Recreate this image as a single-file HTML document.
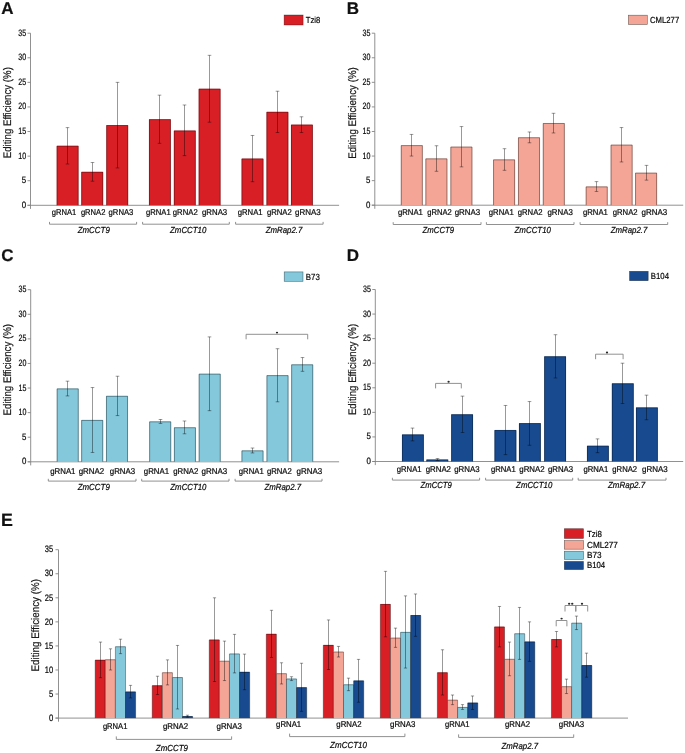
<!DOCTYPE html>
<html><head><meta charset="utf-8"><style>
html,body{margin:0;padding:0;background:#fff;width:685px;height:753px;overflow:hidden}
svg{display:block;font-family:"Liberation Sans",sans-serif;will-change:transform}
text{stroke:#1a1a1a;stroke-width:0.22px}
</style></head><body>
<svg width="685" height="753" viewBox="0 0 685 753" font-family="Liberation Sans, sans-serif" text-rendering="geometricPrecision">
<rect width="685" height="753" fill="#fff"/>
<text x="1.20" y="14.20" font-size="17" font-weight="bold" fill="#111">A</text>
<line x1="30.50" y1="33.20" x2="30.50" y2="208.90" stroke="#858585" stroke-width="0.9"/>
<line x1="27.50" y1="205.30" x2="30.50" y2="205.30" stroke="#858585" stroke-width="0.9"/>
<text x="26.20" y="207.80" font-size="9.2" text-anchor="end" textLength="4.40" lengthAdjust="spacingAndGlyphs">0</text>
<line x1="27.50" y1="180.71" x2="30.50" y2="180.71" stroke="#858585" stroke-width="0.9"/>
<text x="26.20" y="183.21" font-size="9.2" text-anchor="end" textLength="4.40" lengthAdjust="spacingAndGlyphs">5</text>
<line x1="27.50" y1="156.13" x2="30.50" y2="156.13" stroke="#858585" stroke-width="0.9"/>
<text x="26.20" y="158.63" font-size="9.2" text-anchor="end" textLength="7.90" lengthAdjust="spacingAndGlyphs">10</text>
<line x1="27.50" y1="131.54" x2="30.50" y2="131.54" stroke="#858585" stroke-width="0.9"/>
<text x="26.20" y="134.04" font-size="9.2" text-anchor="end" textLength="7.90" lengthAdjust="spacingAndGlyphs">15</text>
<line x1="27.50" y1="106.96" x2="30.50" y2="106.96" stroke="#858585" stroke-width="0.9"/>
<text x="26.20" y="109.46" font-size="9.2" text-anchor="end" textLength="7.90" lengthAdjust="spacingAndGlyphs">20</text>
<line x1="27.50" y1="82.37" x2="30.50" y2="82.37" stroke="#858585" stroke-width="0.9"/>
<text x="26.20" y="84.87" font-size="9.2" text-anchor="end" textLength="7.90" lengthAdjust="spacingAndGlyphs">25</text>
<line x1="27.50" y1="57.79" x2="30.50" y2="57.79" stroke="#858585" stroke-width="0.9"/>
<text x="26.20" y="60.29" font-size="9.2" text-anchor="end" textLength="7.90" lengthAdjust="spacingAndGlyphs">30</text>
<line x1="27.50" y1="33.20" x2="30.50" y2="33.20" stroke="#858585" stroke-width="0.9"/>
<text x="26.20" y="35.70" font-size="9.2" text-anchor="end" textLength="7.90" lengthAdjust="spacingAndGlyphs">35</text>
<text transform="translate(10.90,112.70) rotate(-90)" x="0" y="0" font-size="11" text-anchor="middle" textLength="91.2" lengthAdjust="spacingAndGlyphs" fill="#1a1a1a">Editing Efficiency (%)</text>
<line x1="27.50" y1="205.30" x2="339.10" y2="205.30" stroke="#858585" stroke-width="0.9"/>
<rect x="56.70" y="145.80" width="21.80" height="59.50" fill="#d81f26"/><path d="M57.05 205.30V146.15H78.15V205.30" fill="none" stroke="rgba(0,0,0,0.5)" stroke-width="0.7"/>
<path d="M65.70 127.61H69.30M67.50 127.61V164.00M65.70 164.00H69.30" fill="none" stroke="#000" stroke-opacity="0.5" stroke-width="0.8"/>
<rect x="81.30" y="171.86" width="21.80" height="33.44" fill="#d81f26"/><path d="M81.65 205.30V172.21H102.75V205.30" fill="none" stroke="rgba(0,0,0,0.5)" stroke-width="0.7"/>
<path d="M90.70 162.52H94.30M92.50 162.52V181.21M90.70 181.21H94.30" fill="none" stroke="#000" stroke-opacity="0.5" stroke-width="0.8"/>
<rect x="106.30" y="125.15" width="21.80" height="80.15" fill="#d81f26"/><path d="M106.65 205.30V125.50H127.75V205.30" fill="none" stroke="rgba(0,0,0,0.5)" stroke-width="0.7"/>
<path d="M115.70 82.37H119.30M117.50 82.37V167.93M115.70 167.93H119.30" fill="none" stroke="#000" stroke-opacity="0.5" stroke-width="0.8"/>
<rect x="149.00" y="119.25" width="21.80" height="86.05" fill="#d81f26"/><path d="M149.35 205.30V119.60H170.45V205.30" fill="none" stroke="rgba(0,0,0,0.5)" stroke-width="0.7"/>
<path d="M157.70 95.16H161.30M159.50 95.16V143.34M157.70 143.34H161.30" fill="none" stroke="#000" stroke-opacity="0.5" stroke-width="0.8"/>
<rect x="173.90" y="130.56" width="21.80" height="74.74" fill="#d81f26"/><path d="M174.25 205.30V130.91H195.35V205.30" fill="none" stroke="rgba(0,0,0,0.5)" stroke-width="0.7"/>
<path d="M182.70 104.99H186.30M184.50 104.99V155.64M182.70 155.64H186.30" fill="none" stroke="#000" stroke-opacity="0.5" stroke-width="0.8"/>
<rect x="198.70" y="88.76" width="21.80" height="116.54" fill="#d81f26"/><path d="M199.05 205.30V89.11H220.15V205.30" fill="none" stroke="rgba(0,0,0,0.5)" stroke-width="0.7"/>
<path d="M207.70 55.33H211.30M209.50 55.33V122.20M207.70 122.20H211.30" fill="none" stroke="#000" stroke-opacity="0.5" stroke-width="0.8"/>
<rect x="241.60" y="158.59" width="21.80" height="46.71" fill="#d81f26"/><path d="M241.95 205.30V158.94H263.05V205.30" fill="none" stroke="rgba(0,0,0,0.5)" stroke-width="0.7"/>
<path d="M250.70 135.48H254.30M252.50 135.48V181.70M250.70 181.70H254.30" fill="none" stroke="#000" stroke-opacity="0.5" stroke-width="0.8"/>
<rect x="266.50" y="111.87" width="21.80" height="93.43" fill="#d81f26"/><path d="M266.85 205.30V112.22H287.95V205.30" fill="none" stroke="rgba(0,0,0,0.5)" stroke-width="0.7"/>
<path d="M275.70 91.22H279.30M277.50 91.22V132.53M275.70 132.53H279.30" fill="none" stroke="#000" stroke-opacity="0.5" stroke-width="0.8"/>
<rect x="291.00" y="124.66" width="21.80" height="80.64" fill="#d81f26"/><path d="M291.35 205.30V125.01H312.45V205.30" fill="none" stroke="rgba(0,0,0,0.5)" stroke-width="0.7"/>
<path d="M299.70 116.79H303.30M301.50 116.79V132.53M299.70 132.53H303.30" fill="none" stroke="#000" stroke-opacity="0.5" stroke-width="0.8"/>
<text x="51.70" y="214.80" font-size="8.4" textLength="24.50" lengthAdjust="spacingAndGlyphs">gRNA1</text>
<text x="80.90" y="214.80" font-size="8.4" textLength="24.50" lengthAdjust="spacingAndGlyphs">gRNA2</text>
<text x="108.60" y="214.80" font-size="8.4" textLength="24.80" lengthAdjust="spacingAndGlyphs">gRNA3</text>
<text x="146.10" y="214.80" font-size="8.4" textLength="24.60" lengthAdjust="spacingAndGlyphs">gRNA1</text>
<text x="172.80" y="214.80" font-size="8.4" textLength="24.90" lengthAdjust="spacingAndGlyphs">gRNA2</text>
<text x="202.00" y="214.80" font-size="8.4" textLength="25.20" lengthAdjust="spacingAndGlyphs">gRNA3</text>
<text x="237.70" y="214.80" font-size="8.4" textLength="24.90" lengthAdjust="spacingAndGlyphs">gRNA1</text>
<text x="266.90" y="214.80" font-size="8.4" textLength="24.90" lengthAdjust="spacingAndGlyphs">gRNA2</text>
<text x="295.00" y="214.80" font-size="8.4" textLength="25.70" lengthAdjust="spacingAndGlyphs">gRNA3</text>
<path d="M49.50 221.90V224.20H136.60V221.90" fill="none" stroke="#858585" stroke-width="0.9"/>
<path d="M142.60 221.90V224.20H229.30V221.90" fill="none" stroke="#858585" stroke-width="0.9"/>
<path d="M235.60 221.90V224.20H323.10V221.90" fill="none" stroke="#858585" stroke-width="0.9"/>
<text x="77.70" y="233.40" font-size="8.8" textLength="32.10" lengthAdjust="spacingAndGlyphs" font-style="italic">ZmCCT9</text>
<text x="170.00" y="233.40" font-size="8.8" textLength="36.40" lengthAdjust="spacingAndGlyphs" font-style="italic">ZmCCT10</text>
<text x="265.70" y="233.40" font-size="8.8" textLength="36.60" lengthAdjust="spacingAndGlyphs" font-style="italic">ZmRap2.7</text>
<rect x="284.1" y="15.0" width="19.0" height="10.0" fill="#d81f26" stroke="rgba(0,0,0,0.5)" stroke-width="0.6"/>
<text x="305.80" y="23.30" font-size="8.8" textLength="14.50" lengthAdjust="spacingAndGlyphs">Tzi8</text>
<text x="346.80" y="14.00" font-size="17" font-weight="bold" fill="#111">B</text>
<line x1="374.80" y1="33.20" x2="374.80" y2="208.80" stroke="#858585" stroke-width="0.9"/>
<line x1="371.80" y1="205.20" x2="374.80" y2="205.20" stroke="#858585" stroke-width="0.9"/>
<text x="370.50" y="207.70" font-size="9.2" text-anchor="end" textLength="4.40" lengthAdjust="spacingAndGlyphs">0</text>
<line x1="371.80" y1="180.63" x2="374.80" y2="180.63" stroke="#858585" stroke-width="0.9"/>
<text x="370.50" y="183.13" font-size="9.2" text-anchor="end" textLength="4.40" lengthAdjust="spacingAndGlyphs">5</text>
<line x1="371.80" y1="156.06" x2="374.80" y2="156.06" stroke="#858585" stroke-width="0.9"/>
<text x="370.50" y="158.56" font-size="9.2" text-anchor="end" textLength="7.90" lengthAdjust="spacingAndGlyphs">10</text>
<line x1="371.80" y1="131.49" x2="374.80" y2="131.49" stroke="#858585" stroke-width="0.9"/>
<text x="370.50" y="133.99" font-size="9.2" text-anchor="end" textLength="7.90" lengthAdjust="spacingAndGlyphs">15</text>
<line x1="371.80" y1="106.91" x2="374.80" y2="106.91" stroke="#858585" stroke-width="0.9"/>
<text x="370.50" y="109.41" font-size="9.2" text-anchor="end" textLength="7.90" lengthAdjust="spacingAndGlyphs">20</text>
<line x1="371.80" y1="82.34" x2="374.80" y2="82.34" stroke="#858585" stroke-width="0.9"/>
<text x="370.50" y="84.84" font-size="9.2" text-anchor="end" textLength="7.90" lengthAdjust="spacingAndGlyphs">25</text>
<line x1="371.80" y1="57.77" x2="374.80" y2="57.77" stroke="#858585" stroke-width="0.9"/>
<text x="370.50" y="60.27" font-size="9.2" text-anchor="end" textLength="7.90" lengthAdjust="spacingAndGlyphs">30</text>
<line x1="371.80" y1="33.20" x2="374.80" y2="33.20" stroke="#858585" stroke-width="0.9"/>
<text x="370.50" y="35.70" font-size="9.2" text-anchor="end" textLength="7.90" lengthAdjust="spacingAndGlyphs">35</text>
<text transform="translate(355.60,113.00) rotate(-90)" x="0" y="0" font-size="11" text-anchor="middle" textLength="91.5" lengthAdjust="spacingAndGlyphs" fill="#1a1a1a">Editing Efficiency (%)</text>
<line x1="371.80" y1="205.20" x2="683.20" y2="205.20" stroke="#858585" stroke-width="0.9"/>
<rect x="400.90" y="145.25" width="21.80" height="59.95" fill="#f5a596"/><path d="M401.25 205.20V145.60H422.35V205.20" fill="none" stroke="rgba(0,0,0,0.55)" stroke-width="0.7"/>
<path d="M409.70 134.43H413.30M411.50 134.43V156.06M409.70 156.06H413.30" fill="none" stroke="#000" stroke-opacity="0.5" stroke-width="0.8"/>
<rect x="425.50" y="158.51" width="21.80" height="46.69" fill="#f5a596"/><path d="M425.85 205.20V158.86H446.95V205.20" fill="none" stroke="rgba(0,0,0,0.55)" stroke-width="0.7"/>
<path d="M434.70 145.74H438.30M436.50 145.74V171.29M434.70 171.29H438.30" fill="none" stroke="#000" stroke-opacity="0.5" stroke-width="0.8"/>
<rect x="450.50" y="146.72" width="21.80" height="58.48" fill="#f5a596"/><path d="M450.85 205.20V147.07H471.95V205.20" fill="none" stroke="rgba(0,0,0,0.55)" stroke-width="0.7"/>
<path d="M459.70 126.57H463.30M461.50 126.57V166.87M459.70 166.87H463.30" fill="none" stroke="#000" stroke-opacity="0.5" stroke-width="0.8"/>
<rect x="493.20" y="159.50" width="21.80" height="45.70" fill="#f5a596"/><path d="M493.55 205.20V159.85H514.65V205.20" fill="none" stroke="rgba(0,0,0,0.55)" stroke-width="0.7"/>
<path d="M502.70 148.69H506.30M504.50 148.69V170.31M502.70 170.31H506.30" fill="none" stroke="#000" stroke-opacity="0.5" stroke-width="0.8"/>
<rect x="518.10" y="137.38" width="21.80" height="67.82" fill="#f5a596"/><path d="M518.45 205.20V137.73H539.55V205.20" fill="none" stroke="rgba(0,0,0,0.55)" stroke-width="0.7"/>
<path d="M527.70 131.98H531.30M529.50 131.98V142.79M527.70 142.79H531.30" fill="none" stroke="#000" stroke-opacity="0.5" stroke-width="0.8"/>
<rect x="542.90" y="123.13" width="21.80" height="82.07" fill="#f5a596"/><path d="M543.25 205.20V123.48H564.35V205.20" fill="none" stroke="rgba(0,0,0,0.55)" stroke-width="0.7"/>
<path d="M551.70 113.30H555.30M553.50 113.30V132.96M551.70 132.96H555.30" fill="none" stroke="#000" stroke-opacity="0.5" stroke-width="0.8"/>
<rect x="585.80" y="186.53" width="21.80" height="18.67" fill="#f5a596"/><path d="M586.15 205.20V186.88H607.25V205.20" fill="none" stroke="rgba(0,0,0,0.55)" stroke-width="0.7"/>
<path d="M594.70 181.61H598.30M596.50 181.61V191.44M594.70 191.44H598.30" fill="none" stroke="#000" stroke-opacity="0.5" stroke-width="0.8"/>
<rect x="610.70" y="144.75" width="21.80" height="60.45" fill="#f5a596"/><path d="M611.05 205.20V145.10H632.15V205.20" fill="none" stroke="rgba(0,0,0,0.55)" stroke-width="0.7"/>
<path d="M619.70 127.55H623.30M621.50 127.55V161.95M619.70 161.95H623.30" fill="none" stroke="#000" stroke-opacity="0.5" stroke-width="0.8"/>
<rect x="635.20" y="172.77" width="21.80" height="32.43" fill="#f5a596"/><path d="M635.55 205.20V173.12H656.65V205.20" fill="none" stroke="rgba(0,0,0,0.55)" stroke-width="0.7"/>
<path d="M644.70 165.39H648.30M646.50 165.39V180.14M644.70 180.14H648.30" fill="none" stroke="#000" stroke-opacity="0.5" stroke-width="0.8"/>
<text x="398.00" y="215.00" font-size="8.4" textLength="24.90" lengthAdjust="spacingAndGlyphs">gRNA1</text>
<text x="427.30" y="215.00" font-size="8.4" textLength="24.50" lengthAdjust="spacingAndGlyphs">gRNA2</text>
<text x="454.70" y="215.00" font-size="8.4" textLength="25.60" lengthAdjust="spacingAndGlyphs">gRNA3</text>
<text x="488.80" y="215.00" font-size="8.4" textLength="24.90" lengthAdjust="spacingAndGlyphs">gRNA1</text>
<text x="517.70" y="215.00" font-size="8.4" textLength="24.90" lengthAdjust="spacingAndGlyphs">gRNA2</text>
<text x="547.40" y="215.00" font-size="8.4" textLength="25.40" lengthAdjust="spacingAndGlyphs">gRNA3</text>
<text x="583.00" y="215.00" font-size="8.4" textLength="24.90" lengthAdjust="spacingAndGlyphs">gRNA1</text>
<text x="612.70" y="215.00" font-size="8.4" textLength="24.90" lengthAdjust="spacingAndGlyphs">gRNA2</text>
<text x="641.60" y="215.00" font-size="8.4" textLength="25.70" lengthAdjust="spacingAndGlyphs">gRNA3</text>
<path d="M393.20 222.20V224.50H481.00V222.20" fill="none" stroke="#858585" stroke-width="0.9"/>
<path d="M486.40 222.20V224.50H574.00V222.20" fill="none" stroke="#858585" stroke-width="0.9"/>
<path d="M580.10 222.20V224.50H667.70V222.20" fill="none" stroke="#858585" stroke-width="0.9"/>
<text x="422.60" y="233.40" font-size="8.8" textLength="31.60" lengthAdjust="spacingAndGlyphs" font-style="italic">ZmCCT9</text>
<text x="514.50" y="233.40" font-size="8.8" textLength="36.50" lengthAdjust="spacingAndGlyphs" font-style="italic">ZmCCT10</text>
<text x="610.70" y="233.40" font-size="8.8" textLength="36.60" lengthAdjust="spacingAndGlyphs" font-style="italic">ZmRap2.7</text>
<rect x="628.4" y="15.2" width="18.9" height="9.3" fill="#f5a596" stroke="rgba(0,0,0,0.55)" stroke-width="0.6"/>
<text x="650.00" y="22.80" font-size="8.8" textLength="29.20" lengthAdjust="spacingAndGlyphs">CML277</text>
<text x="1.30" y="260.60" font-size="17" font-weight="bold" fill="#111">C</text>
<line x1="30.70" y1="289.70" x2="30.70" y2="465.40" stroke="#858585" stroke-width="0.9"/>
<line x1="27.70" y1="461.80" x2="30.70" y2="461.80" stroke="#858585" stroke-width="0.9"/>
<text x="26.40" y="464.30" font-size="9.2" text-anchor="end" textLength="4.40" lengthAdjust="spacingAndGlyphs">0</text>
<line x1="27.70" y1="437.21" x2="30.70" y2="437.21" stroke="#858585" stroke-width="0.9"/>
<text x="26.40" y="439.71" font-size="9.2" text-anchor="end" textLength="4.40" lengthAdjust="spacingAndGlyphs">5</text>
<line x1="27.70" y1="412.63" x2="30.70" y2="412.63" stroke="#858585" stroke-width="0.9"/>
<text x="26.40" y="415.13" font-size="9.2" text-anchor="end" textLength="7.90" lengthAdjust="spacingAndGlyphs">10</text>
<line x1="27.70" y1="388.04" x2="30.70" y2="388.04" stroke="#858585" stroke-width="0.9"/>
<text x="26.40" y="390.54" font-size="9.2" text-anchor="end" textLength="7.90" lengthAdjust="spacingAndGlyphs">15</text>
<line x1="27.70" y1="363.46" x2="30.70" y2="363.46" stroke="#858585" stroke-width="0.9"/>
<text x="26.40" y="365.96" font-size="9.2" text-anchor="end" textLength="7.90" lengthAdjust="spacingAndGlyphs">20</text>
<line x1="27.70" y1="338.87" x2="30.70" y2="338.87" stroke="#858585" stroke-width="0.9"/>
<text x="26.40" y="341.37" font-size="9.2" text-anchor="end" textLength="7.90" lengthAdjust="spacingAndGlyphs">25</text>
<line x1="27.70" y1="314.29" x2="30.70" y2="314.29" stroke="#858585" stroke-width="0.9"/>
<text x="26.40" y="316.79" font-size="9.2" text-anchor="end" textLength="7.90" lengthAdjust="spacingAndGlyphs">30</text>
<line x1="27.70" y1="289.70" x2="30.70" y2="289.70" stroke="#858585" stroke-width="0.9"/>
<text x="26.40" y="292.20" font-size="9.2" text-anchor="end" textLength="7.90" lengthAdjust="spacingAndGlyphs">35</text>
<text transform="translate(11.20,369.70) rotate(-90)" x="0" y="0" font-size="11" text-anchor="middle" textLength="91.6" lengthAdjust="spacingAndGlyphs" fill="#1a1a1a">Editing Efficiency (%)</text>
<line x1="27.70" y1="461.80" x2="339.10" y2="461.80" stroke="#858585" stroke-width="0.9"/>
<rect x="56.80" y="388.53" width="21.80" height="73.27" fill="#84c8dc"/><path d="M57.15 461.80V388.88H78.25V461.80" fill="none" stroke="rgba(0,0,0,0.55)" stroke-width="0.7"/>
<path d="M65.70 381.16H69.30M67.50 381.16V395.91M65.70 395.91H69.30" fill="none" stroke="#000" stroke-opacity="0.5" stroke-width="0.8"/>
<rect x="81.30" y="420.00" width="21.80" height="41.80" fill="#84c8dc"/><path d="M81.65 461.80V420.35H102.75V461.80" fill="none" stroke="rgba(0,0,0,0.55)" stroke-width="0.7"/>
<path d="M90.70 387.55H94.30M92.50 387.55V452.46M90.70 452.46H94.30" fill="none" stroke="#000" stroke-opacity="0.5" stroke-width="0.8"/>
<rect x="106.10" y="395.91" width="21.80" height="65.89" fill="#84c8dc"/><path d="M106.45 461.80V396.26H127.55V461.80" fill="none" stroke="rgba(0,0,0,0.55)" stroke-width="0.7"/>
<path d="M115.70 376.24H119.30M117.50 376.24V415.58M115.70 415.58H119.30" fill="none" stroke="#000" stroke-opacity="0.5" stroke-width="0.8"/>
<rect x="149.30" y="421.48" width="21.80" height="40.32" fill="#84c8dc"/><path d="M149.65 461.80V421.83H170.75V461.80" fill="none" stroke="rgba(0,0,0,0.55)" stroke-width="0.7"/>
<path d="M158.70 419.51H162.30M160.50 419.51V423.45M158.70 423.45H162.30" fill="none" stroke="#000" stroke-opacity="0.5" stroke-width="0.8"/>
<rect x="174.00" y="427.38" width="21.80" height="34.42" fill="#84c8dc"/><path d="M174.35 461.80V427.73H195.45V461.80" fill="none" stroke="rgba(0,0,0,0.55)" stroke-width="0.7"/>
<path d="M182.70 420.99H186.30M184.50 420.99V433.77M182.70 433.77H186.30" fill="none" stroke="#000" stroke-opacity="0.5" stroke-width="0.8"/>
<rect x="198.80" y="373.78" width="21.80" height="88.02" fill="#84c8dc"/><path d="M199.15 461.80V374.13H220.25V461.80" fill="none" stroke="rgba(0,0,0,0.55)" stroke-width="0.7"/>
<path d="M207.70 336.90H211.30M209.50 336.90V410.66M207.70 410.66H211.30" fill="none" stroke="#000" stroke-opacity="0.5" stroke-width="0.8"/>
<rect x="241.60" y="450.49" width="21.80" height="11.31" fill="#84c8dc"/><path d="M241.95 461.80V450.84H263.05V461.80" fill="none" stroke="rgba(0,0,0,0.55)" stroke-width="0.7"/>
<path d="M250.70 448.03H254.30M252.50 448.03V452.95M250.70 452.95H254.30" fill="none" stroke="#000" stroke-opacity="0.5" stroke-width="0.8"/>
<rect x="266.60" y="375.26" width="21.80" height="86.54" fill="#84c8dc"/><path d="M266.95 461.80V375.61H288.05V461.80" fill="none" stroke="rgba(0,0,0,0.55)" stroke-width="0.7"/>
<path d="M275.70 348.71H279.30M277.50 348.71V401.81M275.70 401.81H279.30" fill="none" stroke="#000" stroke-opacity="0.5" stroke-width="0.8"/>
<rect x="291.30" y="364.44" width="21.80" height="97.36" fill="#84c8dc"/><path d="M291.65 461.80V364.79H312.75V461.80" fill="none" stroke="rgba(0,0,0,0.55)" stroke-width="0.7"/>
<path d="M300.70 357.56H304.30M302.50 357.56V371.32M300.70 371.32H304.30" fill="none" stroke="#000" stroke-opacity="0.5" stroke-width="0.8"/>
<text x="50.20" y="473.50" font-size="8.4" textLength="25.30" lengthAdjust="spacingAndGlyphs">gRNA1</text>
<text x="78.70" y="473.50" font-size="8.4" textLength="25.50" lengthAdjust="spacingAndGlyphs">gRNA2</text>
<text x="109.80" y="473.50" font-size="8.4" textLength="25.40" lengthAdjust="spacingAndGlyphs">gRNA3</text>
<text x="143.80" y="473.50" font-size="8.4" textLength="25.20" lengthAdjust="spacingAndGlyphs">gRNA1</text>
<text x="173.20" y="473.50" font-size="8.4" textLength="25.20" lengthAdjust="spacingAndGlyphs">gRNA2</text>
<text x="201.60" y="473.50" font-size="8.4" textLength="25.70" lengthAdjust="spacingAndGlyphs">gRNA3</text>
<text x="238.80" y="473.50" font-size="8.4" textLength="24.90" lengthAdjust="spacingAndGlyphs">gRNA1</text>
<text x="266.90" y="473.50" font-size="8.4" textLength="24.90" lengthAdjust="spacingAndGlyphs">gRNA2</text>
<text x="296.60" y="473.50" font-size="8.4" textLength="25.70" lengthAdjust="spacingAndGlyphs">gRNA3</text>
<path d="M48.30 478.80V481.10H136.00V478.80" fill="none" stroke="#858585" stroke-width="0.9"/>
<path d="M141.70 478.80V481.10H229.00V478.80" fill="none" stroke="#858585" stroke-width="0.9"/>
<path d="M235.10 478.80V481.10H322.00V478.80" fill="none" stroke="#858585" stroke-width="0.9"/>
<text x="77.70" y="489.80" font-size="8.8" textLength="32.10" lengthAdjust="spacingAndGlyphs" font-style="italic">ZmCCT9</text>
<text x="170.30" y="489.80" font-size="8.8" textLength="36.20" lengthAdjust="spacingAndGlyphs" font-style="italic">ZmCCT10</text>
<text x="264.50" y="489.80" font-size="8.8" textLength="36.60" lengthAdjust="spacingAndGlyphs" font-style="italic">ZmRap2.7</text>
<rect x="284.2" y="271.9" width="18.8" height="9.4" fill="#84c8dc" stroke="rgba(0,0,0,0.55)" stroke-width="0.6"/>
<text x="305.80" y="279.60" font-size="8.8" textLength="14.00" lengthAdjust="spacingAndGlyphs">B73</text>
<path d="M246.10 339.30V334.30H307.70V339.30" fill="none" stroke="#858585" stroke-width="0.9"/>
<ellipse cx="277.00" cy="332.60" rx="1.15" ry="0.95" fill="#2a2a2a"/>
<text x="346.80" y="260.80" font-size="17" font-weight="bold" fill="#111">D</text>
<line x1="375.30" y1="289.50" x2="375.30" y2="465.10" stroke="#858585" stroke-width="0.9"/>
<line x1="372.30" y1="461.50" x2="375.30" y2="461.50" stroke="#858585" stroke-width="0.9"/>
<text x="371.00" y="464.00" font-size="9.2" text-anchor="end" textLength="4.40" lengthAdjust="spacingAndGlyphs">0</text>
<line x1="372.30" y1="436.93" x2="375.30" y2="436.93" stroke="#858585" stroke-width="0.9"/>
<text x="371.00" y="439.43" font-size="9.2" text-anchor="end" textLength="4.40" lengthAdjust="spacingAndGlyphs">5</text>
<line x1="372.30" y1="412.36" x2="375.30" y2="412.36" stroke="#858585" stroke-width="0.9"/>
<text x="371.00" y="414.86" font-size="9.2" text-anchor="end" textLength="7.90" lengthAdjust="spacingAndGlyphs">10</text>
<line x1="372.30" y1="387.79" x2="375.30" y2="387.79" stroke="#858585" stroke-width="0.9"/>
<text x="371.00" y="390.29" font-size="9.2" text-anchor="end" textLength="7.90" lengthAdjust="spacingAndGlyphs">15</text>
<line x1="372.30" y1="363.21" x2="375.30" y2="363.21" stroke="#858585" stroke-width="0.9"/>
<text x="371.00" y="365.71" font-size="9.2" text-anchor="end" textLength="7.90" lengthAdjust="spacingAndGlyphs">20</text>
<line x1="372.30" y1="338.64" x2="375.30" y2="338.64" stroke="#858585" stroke-width="0.9"/>
<text x="371.00" y="341.14" font-size="9.2" text-anchor="end" textLength="7.90" lengthAdjust="spacingAndGlyphs">25</text>
<line x1="372.30" y1="314.07" x2="375.30" y2="314.07" stroke="#858585" stroke-width="0.9"/>
<text x="371.00" y="316.57" font-size="9.2" text-anchor="end" textLength="7.90" lengthAdjust="spacingAndGlyphs">30</text>
<line x1="372.30" y1="289.50" x2="375.30" y2="289.50" stroke="#858585" stroke-width="0.9"/>
<text x="371.00" y="292.00" font-size="9.2" text-anchor="end" textLength="7.90" lengthAdjust="spacingAndGlyphs">35</text>
<text transform="translate(356.00,369.50) rotate(-90)" x="0" y="0" font-size="11" text-anchor="middle" textLength="91.2" lengthAdjust="spacingAndGlyphs" fill="#1a1a1a">Editing Efficiency (%)</text>
<line x1="372.30" y1="461.50" x2="683.20" y2="461.50" stroke="#858585" stroke-width="0.9"/>
<rect x="402.00" y="434.47" width="21.80" height="27.03" fill="#174a8f"/><path d="M402.35 461.50V434.82H423.45V461.50" fill="none" stroke="rgba(0,0,0,0.5)" stroke-width="0.7"/>
<path d="M410.70 428.08H414.30M412.50 428.08V440.86M410.70 440.86H414.30" fill="none" stroke="#000" stroke-opacity="0.5" stroke-width="0.8"/>
<rect x="426.40" y="459.53" width="21.80" height="1.97" fill="#174a8f"/><path d="M426.75 461.50V459.88H447.85V461.50" fill="none" stroke="rgba(0,0,0,0.5)" stroke-width="0.7"/>
<path d="M435.70 458.55H439.30M437.50 458.55V460.52M435.70 460.52H439.30" fill="none" stroke="#000" stroke-opacity="0.5" stroke-width="0.8"/>
<rect x="451.20" y="414.32" width="21.80" height="47.18" fill="#174a8f"/><path d="M451.55 461.50V414.67H472.65V461.50" fill="none" stroke="rgba(0,0,0,0.5)" stroke-width="0.7"/>
<path d="M460.70 396.14H464.30M462.50 396.14V432.51M460.70 432.51H464.30" fill="none" stroke="#000" stroke-opacity="0.5" stroke-width="0.8"/>
<rect x="494.50" y="430.05" width="21.80" height="31.45" fill="#174a8f"/><path d="M494.85 461.50V430.40H515.95V461.50" fill="none" stroke="rgba(0,0,0,0.5)" stroke-width="0.7"/>
<path d="M503.70 405.48H507.30M505.50 405.48V454.62M503.70 454.62H507.30" fill="none" stroke="#000" stroke-opacity="0.5" stroke-width="0.8"/>
<rect x="519.00" y="423.17" width="21.80" height="38.33" fill="#174a8f"/><path d="M519.35 461.50V423.52H540.45V461.50" fill="none" stroke="rgba(0,0,0,0.5)" stroke-width="0.7"/>
<path d="M527.70 401.55H531.30M529.50 401.55V445.28M527.70 445.28H531.30" fill="none" stroke="#000" stroke-opacity="0.5" stroke-width="0.8"/>
<rect x="544.20" y="356.33" width="21.80" height="105.17" fill="#174a8f"/><path d="M544.55 461.50V356.68H565.65V461.50" fill="none" stroke="rgba(0,0,0,0.5)" stroke-width="0.7"/>
<path d="M553.70 334.71H557.30M555.50 334.71V377.96M553.70 377.96H557.30" fill="none" stroke="#000" stroke-opacity="0.5" stroke-width="0.8"/>
<rect x="587.00" y="445.77" width="21.80" height="15.73" fill="#174a8f"/><path d="M587.35 461.50V446.12H608.45V461.50" fill="none" stroke="rgba(0,0,0,0.5)" stroke-width="0.7"/>
<path d="M595.70 438.89H599.30M597.50 438.89V452.65M595.70 452.65H599.30" fill="none" stroke="#000" stroke-opacity="0.5" stroke-width="0.8"/>
<rect x="611.90" y="383.36" width="21.80" height="78.14" fill="#174a8f"/><path d="M612.25 461.50V383.71H633.35V461.50" fill="none" stroke="rgba(0,0,0,0.5)" stroke-width="0.7"/>
<path d="M620.70 363.21H624.30M622.50 363.21V403.51M620.70 403.51H624.30" fill="none" stroke="#000" stroke-opacity="0.5" stroke-width="0.8"/>
<rect x="636.00" y="407.44" width="21.80" height="54.06" fill="#174a8f"/><path d="M636.35 461.50V407.79H657.45V461.50" fill="none" stroke="rgba(0,0,0,0.5)" stroke-width="0.7"/>
<path d="M644.70 395.16H648.30M646.50 395.16V419.73M644.70 419.73H648.30" fill="none" stroke="#000" stroke-opacity="0.5" stroke-width="0.8"/>
<text x="396.70" y="472.00" font-size="8.4" textLength="24.90" lengthAdjust="spacingAndGlyphs">gRNA1</text>
<text x="425.70" y="472.00" font-size="8.4" textLength="25.30" lengthAdjust="spacingAndGlyphs">gRNA2</text>
<text x="454.20" y="472.00" font-size="8.4" textLength="25.40" lengthAdjust="spacingAndGlyphs">gRNA3</text>
<text x="490.90" y="472.00" font-size="8.4" textLength="24.80" lengthAdjust="spacingAndGlyphs">gRNA1</text>
<text x="519.30" y="472.00" font-size="8.4" textLength="25.40" lengthAdjust="spacingAndGlyphs">gRNA2</text>
<text x="547.90" y="472.00" font-size="8.4" textLength="25.20" lengthAdjust="spacingAndGlyphs">gRNA3</text>
<text x="583.40" y="472.00" font-size="8.4" textLength="24.80" lengthAdjust="spacingAndGlyphs">gRNA1</text>
<text x="612.30" y="472.00" font-size="8.4" textLength="24.80" lengthAdjust="spacingAndGlyphs">gRNA2</text>
<text x="642.10" y="472.00" font-size="8.4" textLength="25.70" lengthAdjust="spacingAndGlyphs">gRNA3</text>
<path d="M392.40 477.80V480.10H479.60V477.80" fill="none" stroke="#858585" stroke-width="0.9"/>
<path d="M485.60 477.80V480.10H572.70V477.80" fill="none" stroke="#858585" stroke-width="0.9"/>
<path d="M578.20 477.80V480.10H666.00V477.80" fill="none" stroke="#858585" stroke-width="0.9"/>
<text x="420.50" y="488.40" font-size="8.8" textLength="31.30" lengthAdjust="spacingAndGlyphs" font-style="italic">ZmCCT9</text>
<text x="516.10" y="488.40" font-size="8.8" textLength="36.20" lengthAdjust="spacingAndGlyphs" font-style="italic">ZmCCT10</text>
<text x="607.90" y="488.40" font-size="8.8" textLength="37.30" lengthAdjust="spacingAndGlyphs" font-style="italic">ZmRap2.7</text>
<rect x="629.5" y="271.3" width="18.7" height="9.4" fill="#174a8f" stroke="rgba(0,0,0,0.5)" stroke-width="0.6"/>
<text x="650.80" y="278.70" font-size="8.8" textLength="18.20" lengthAdjust="spacingAndGlyphs">B104</text>
<path d="M435.60 388.40V383.40H461.30V388.40" fill="none" stroke="#858585" stroke-width="0.9"/>
<ellipse cx="448.60" cy="381.70" rx="1.15" ry="0.95" fill="#2a2a2a"/>
<path d="M595.60 359.20V354.20H623.10V359.20" fill="none" stroke="#858585" stroke-width="0.9"/>
<ellipse cx="607.00" cy="352.50" rx="1.15" ry="0.95" fill="#2a2a2a"/>
<text x="0.90" y="525.80" font-size="17.8" font-weight="bold" fill="#111">E</text>
<line x1="58.50" y1="549.70" x2="58.50" y2="721.70" stroke="#858585" stroke-width="0.9"/>
<line x1="55.50" y1="718.10" x2="58.50" y2="718.10" stroke="#858585" stroke-width="0.9"/>
<text x="53.20" y="720.80" font-size="9.4" text-anchor="end" textLength="4.30" lengthAdjust="spacingAndGlyphs">0</text>
<line x1="55.50" y1="694.04" x2="58.50" y2="694.04" stroke="#858585" stroke-width="0.9"/>
<text x="53.20" y="696.74" font-size="9.4" text-anchor="end" textLength="4.30" lengthAdjust="spacingAndGlyphs">5</text>
<line x1="55.50" y1="669.99" x2="58.50" y2="669.99" stroke="#858585" stroke-width="0.9"/>
<text x="53.20" y="672.69" font-size="9.4" text-anchor="end" textLength="8.40" lengthAdjust="spacingAndGlyphs">10</text>
<line x1="55.50" y1="645.93" x2="58.50" y2="645.93" stroke="#858585" stroke-width="0.9"/>
<text x="53.20" y="648.63" font-size="9.4" text-anchor="end" textLength="8.40" lengthAdjust="spacingAndGlyphs">15</text>
<line x1="55.50" y1="621.87" x2="58.50" y2="621.87" stroke="#858585" stroke-width="0.9"/>
<text x="53.20" y="624.57" font-size="9.4" text-anchor="end" textLength="8.40" lengthAdjust="spacingAndGlyphs">20</text>
<line x1="55.50" y1="597.81" x2="58.50" y2="597.81" stroke="#858585" stroke-width="0.9"/>
<text x="53.20" y="600.51" font-size="9.4" text-anchor="end" textLength="8.40" lengthAdjust="spacingAndGlyphs">25</text>
<line x1="55.50" y1="573.76" x2="58.50" y2="573.76" stroke="#858585" stroke-width="0.9"/>
<text x="53.20" y="576.46" font-size="9.4" text-anchor="end" textLength="8.40" lengthAdjust="spacingAndGlyphs">30</text>
<line x1="55.50" y1="549.70" x2="58.50" y2="549.70" stroke="#858585" stroke-width="0.9"/>
<text x="53.20" y="552.40" font-size="9.4" text-anchor="end" textLength="8.40" lengthAdjust="spacingAndGlyphs">35</text>
<text transform="translate(39.0,625.3) rotate(-90)" x="0" y="0" font-size="11" text-anchor="middle" textLength="92.4" lengthAdjust="spacingAndGlyphs" fill="#1a1a1a">Editing Efficiency (%)</text>
<line x1="55.50" y1="718.10" x2="628.00" y2="718.10" stroke="#858585" stroke-width="0.9"/>
<rect x="95.20" y="659.88" width="10.10" height="58.22" fill="#d81f26"/><path d="M95.20 718.10V660.23H105.30V718.10" fill="none" stroke="rgba(0,0,0,0.5)" stroke-width="0.7"/>
<rect x="105.30" y="659.40" width="10.10" height="58.70" fill="#f5a596"/><path d="M105.30 718.10V659.75H115.40V718.10" fill="none" stroke="rgba(0,0,0,0.5)" stroke-width="0.7"/>
<rect x="115.40" y="646.41" width="10.10" height="71.69" fill="#84c8dc"/><path d="M115.40 718.10V646.76H125.50V718.10" fill="none" stroke="rgba(0,0,0,0.5)" stroke-width="0.7"/>
<rect x="125.50" y="691.64" width="10.10" height="26.46" fill="#174a8f"/><path d="M125.50 718.10V691.99H135.60V718.10" fill="none" stroke="rgba(0,0,0,0.5)" stroke-width="0.7"/>
<rect x="152.23" y="685.38" width="10.10" height="32.72" fill="#d81f26"/><path d="M152.23 718.10V685.73H162.33V718.10" fill="none" stroke="rgba(0,0,0,0.5)" stroke-width="0.7"/>
<rect x="162.33" y="672.39" width="10.10" height="45.71" fill="#f5a596"/><path d="M162.33 718.10V672.74H172.43V718.10" fill="none" stroke="rgba(0,0,0,0.5)" stroke-width="0.7"/>
<rect x="172.43" y="677.20" width="10.10" height="40.90" fill="#84c8dc"/><path d="M172.43 718.10V677.55H182.53V718.10" fill="none" stroke="rgba(0,0,0,0.5)" stroke-width="0.7"/>
<rect x="182.53" y="716.18" width="10.10" height="1.92" fill="#174a8f"/><path d="M182.53 718.10V716.53H192.63V718.10" fill="none" stroke="rgba(0,0,0,0.5)" stroke-width="0.7"/>
<rect x="209.26" y="639.67" width="10.10" height="78.43" fill="#d81f26"/><path d="M209.26 718.10V640.02H219.36V718.10" fill="none" stroke="rgba(0,0,0,0.5)" stroke-width="0.7"/>
<rect x="219.36" y="660.84" width="10.10" height="57.26" fill="#f5a596"/><path d="M219.36 718.10V661.19H229.46V718.10" fill="none" stroke="rgba(0,0,0,0.5)" stroke-width="0.7"/>
<rect x="229.46" y="653.63" width="10.10" height="64.47" fill="#84c8dc"/><path d="M229.46 718.10V653.98H239.56V718.10" fill="none" stroke="rgba(0,0,0,0.5)" stroke-width="0.7"/>
<rect x="239.56" y="671.91" width="10.10" height="46.19" fill="#174a8f"/><path d="M239.56 718.10V672.26H249.66V718.10" fill="none" stroke="rgba(0,0,0,0.5)" stroke-width="0.7"/>
<rect x="266.29" y="633.90" width="10.10" height="84.20" fill="#d81f26"/><path d="M266.29 718.10V634.25H276.39V718.10" fill="none" stroke="rgba(0,0,0,0.5)" stroke-width="0.7"/>
<rect x="276.39" y="673.35" width="10.10" height="44.75" fill="#f5a596"/><path d="M276.39 718.10V673.70H286.49V718.10" fill="none" stroke="rgba(0,0,0,0.5)" stroke-width="0.7"/>
<rect x="286.49" y="678.65" width="10.10" height="39.45" fill="#84c8dc"/><path d="M286.49 718.10V679.00H296.59V718.10" fill="none" stroke="rgba(0,0,0,0.5)" stroke-width="0.7"/>
<rect x="296.59" y="687.31" width="10.10" height="30.79" fill="#174a8f"/><path d="M296.59 718.10V687.66H306.69V718.10" fill="none" stroke="rgba(0,0,0,0.5)" stroke-width="0.7"/>
<rect x="323.32" y="644.97" width="10.10" height="73.13" fill="#d81f26"/><path d="M323.32 718.10V645.32H333.42V718.10" fill="none" stroke="rgba(0,0,0,0.5)" stroke-width="0.7"/>
<rect x="333.42" y="651.70" width="10.10" height="66.40" fill="#f5a596"/><path d="M333.42 718.10V652.05H343.52V718.10" fill="none" stroke="rgba(0,0,0,0.5)" stroke-width="0.7"/>
<rect x="343.52" y="684.42" width="10.10" height="33.68" fill="#84c8dc"/><path d="M343.52 718.10V684.77H353.62V718.10" fill="none" stroke="rgba(0,0,0,0.5)" stroke-width="0.7"/>
<rect x="353.62" y="680.57" width="10.10" height="37.53" fill="#174a8f"/><path d="M353.62 718.10V680.92H363.72V718.10" fill="none" stroke="rgba(0,0,0,0.5)" stroke-width="0.7"/>
<rect x="380.35" y="604.07" width="10.10" height="114.03" fill="#d81f26"/><path d="M380.35 718.10V604.42H390.45V718.10" fill="none" stroke="rgba(0,0,0,0.5)" stroke-width="0.7"/>
<rect x="390.45" y="637.75" width="10.10" height="80.35" fill="#f5a596"/><path d="M390.45 718.10V638.10H400.55V718.10" fill="none" stroke="rgba(0,0,0,0.5)" stroke-width="0.7"/>
<rect x="400.55" y="631.98" width="10.10" height="86.12" fill="#84c8dc"/><path d="M400.55 718.10V632.33H410.65V718.10" fill="none" stroke="rgba(0,0,0,0.5)" stroke-width="0.7"/>
<rect x="410.65" y="615.14" width="10.10" height="102.96" fill="#174a8f"/><path d="M410.65 718.10V615.49H420.75V718.10" fill="none" stroke="rgba(0,0,0,0.5)" stroke-width="0.7"/>
<rect x="437.38" y="672.39" width="10.10" height="45.71" fill="#d81f26"/><path d="M437.38 718.10V672.74H447.48V718.10" fill="none" stroke="rgba(0,0,0,0.5)" stroke-width="0.7"/>
<rect x="447.48" y="699.82" width="10.10" height="18.28" fill="#f5a596"/><path d="M447.48 718.10V700.17H457.58V718.10" fill="none" stroke="rgba(0,0,0,0.5)" stroke-width="0.7"/>
<rect x="457.58" y="707.03" width="10.10" height="11.07" fill="#84c8dc"/><path d="M457.58 718.10V707.38H467.68V718.10" fill="none" stroke="rgba(0,0,0,0.5)" stroke-width="0.7"/>
<rect x="467.68" y="702.70" width="10.10" height="15.40" fill="#174a8f"/><path d="M467.68 718.10V703.05H477.78V718.10" fill="none" stroke="rgba(0,0,0,0.5)" stroke-width="0.7"/>
<rect x="494.41" y="626.68" width="10.10" height="91.42" fill="#d81f26"/><path d="M494.41 718.10V627.03H504.51V718.10" fill="none" stroke="rgba(0,0,0,0.5)" stroke-width="0.7"/>
<rect x="504.51" y="658.92" width="10.10" height="59.18" fill="#f5a596"/><path d="M504.51 718.10V659.27H514.61V718.10" fill="none" stroke="rgba(0,0,0,0.5)" stroke-width="0.7"/>
<rect x="514.61" y="633.42" width="10.10" height="84.68" fill="#84c8dc"/><path d="M514.61 718.10V633.77H524.71V718.10" fill="none" stroke="rgba(0,0,0,0.5)" stroke-width="0.7"/>
<rect x="524.71" y="641.60" width="10.10" height="76.50" fill="#174a8f"/><path d="M524.71 718.10V641.95H534.81V718.10" fill="none" stroke="rgba(0,0,0,0.5)" stroke-width="0.7"/>
<rect x="551.44" y="639.19" width="10.10" height="78.91" fill="#d81f26"/><path d="M551.44 718.10V639.54H561.54V718.10" fill="none" stroke="rgba(0,0,0,0.5)" stroke-width="0.7"/>
<rect x="561.54" y="686.34" width="10.10" height="31.76" fill="#f5a596"/><path d="M561.54 718.10V686.69H571.64V718.10" fill="none" stroke="rgba(0,0,0,0.5)" stroke-width="0.7"/>
<rect x="571.64" y="622.83" width="10.10" height="95.27" fill="#84c8dc"/><path d="M571.64 718.10V623.18H581.74V718.10" fill="none" stroke="rgba(0,0,0,0.5)" stroke-width="0.7"/>
<rect x="581.74" y="665.17" width="10.10" height="52.93" fill="#174a8f"/><path d="M581.74 718.10V665.52H591.84V718.10" fill="none" stroke="rgba(0,0,0,0.5)" stroke-width="0.7"/>
<path d="M98.90 642.08H102.10M100.50 642.08V677.68M98.90 677.68H102.10" fill="none" stroke="#000" stroke-opacity="0.5" stroke-width="0.8"/>
<path d="M108.90 648.82H112.10M110.50 648.82V669.99M108.90 669.99H112.10" fill="none" stroke="#000" stroke-opacity="0.5" stroke-width="0.8"/>
<path d="M118.90 639.19H122.10M120.50 639.19V653.63M118.90 653.63H122.10" fill="none" stroke="#000" stroke-opacity="0.5" stroke-width="0.8"/>
<path d="M128.90 685.38H132.10M130.50 685.38V697.89M128.90 697.89H132.10" fill="none" stroke="#000" stroke-opacity="0.5" stroke-width="0.8"/>
<path d="M155.90 676.24H159.10M157.50 676.24V694.52M155.90 694.52H159.10" fill="none" stroke="#000" stroke-opacity="0.5" stroke-width="0.8"/>
<path d="M165.90 659.88H169.10M167.50 659.88V684.90M165.90 684.90H169.10" fill="none" stroke="#000" stroke-opacity="0.5" stroke-width="0.8"/>
<path d="M175.90 645.45H179.10M177.50 645.45V708.96M175.90 708.96H179.10" fill="none" stroke="#000" stroke-opacity="0.5" stroke-width="0.8"/>
<path d="M185.90 715.21H189.10M187.50 715.21V717.14M185.90 717.14H189.10" fill="none" stroke="#000" stroke-opacity="0.5" stroke-width="0.8"/>
<path d="M212.90 597.81H216.10M214.50 597.81V681.53M212.90 681.53H216.10" fill="none" stroke="#000" stroke-opacity="0.5" stroke-width="0.8"/>
<path d="M222.90 641.12H226.10M224.50 641.12V680.57M222.90 680.57H226.10" fill="none" stroke="#000" stroke-opacity="0.5" stroke-width="0.8"/>
<path d="M232.90 634.38H236.10M234.50 634.38V672.87M232.90 672.87H236.10" fill="none" stroke="#000" stroke-opacity="0.5" stroke-width="0.8"/>
<path d="M242.90 654.11H246.10M244.50 654.11V689.71M242.90 689.71H246.10" fill="none" stroke="#000" stroke-opacity="0.5" stroke-width="0.8"/>
<path d="M269.90 610.32H273.10M271.50 610.32V657.48M269.90 657.48H273.10" fill="none" stroke="#000" stroke-opacity="0.5" stroke-width="0.8"/>
<path d="M279.90 662.77H283.10M281.50 662.77V683.94M279.90 683.94H283.10" fill="none" stroke="#000" stroke-opacity="0.5" stroke-width="0.8"/>
<path d="M289.90 676.72H293.10M291.50 676.72V680.57M289.90 680.57H293.10" fill="none" stroke="#000" stroke-opacity="0.5" stroke-width="0.8"/>
<path d="M299.90 663.25H303.10M301.50 663.25V711.36M299.90 711.36H303.10" fill="none" stroke="#000" stroke-opacity="0.5" stroke-width="0.8"/>
<path d="M326.90 619.95H330.10M328.50 619.95V669.50M326.90 669.50H330.10" fill="none" stroke="#000" stroke-opacity="0.5" stroke-width="0.8"/>
<path d="M336.90 646.41H340.10M338.50 646.41V656.99M336.90 656.99H340.10" fill="none" stroke="#000" stroke-opacity="0.5" stroke-width="0.8"/>
<path d="M346.90 678.17H350.10M348.50 678.17V690.67M346.90 690.67H350.10" fill="none" stroke="#000" stroke-opacity="0.5" stroke-width="0.8"/>
<path d="M356.90 659.40H360.10M358.50 659.40V702.22M356.90 702.22H360.10" fill="none" stroke="#000" stroke-opacity="0.5" stroke-width="0.8"/>
<path d="M383.90 571.35H387.10M385.50 571.35V636.79M383.90 636.79H387.10" fill="none" stroke="#000" stroke-opacity="0.5" stroke-width="0.8"/>
<path d="M393.90 628.13H397.10M395.50 628.13V647.37M393.90 647.37H397.10" fill="none" stroke="#000" stroke-opacity="0.5" stroke-width="0.8"/>
<path d="M403.90 595.89H407.10M405.50 595.89V668.06M403.90 668.06H407.10" fill="none" stroke="#000" stroke-opacity="0.5" stroke-width="0.8"/>
<path d="M413.90 593.97H417.10M415.50 593.97V636.31M413.90 636.31H417.10" fill="none" stroke="#000" stroke-opacity="0.5" stroke-width="0.8"/>
<path d="M440.90 649.78H444.10M442.50 649.78V695.01M440.90 695.01H444.10" fill="none" stroke="#000" stroke-opacity="0.5" stroke-width="0.8"/>
<path d="M450.90 695.01H454.10M452.50 695.01V704.63M450.90 704.63H454.10" fill="none" stroke="#000" stroke-opacity="0.5" stroke-width="0.8"/>
<path d="M460.90 704.63H464.10M462.50 704.63V709.44M460.90 709.44H464.10" fill="none" stroke="#000" stroke-opacity="0.5" stroke-width="0.8"/>
<path d="M470.90 695.97H474.10M472.50 695.97V709.44M470.90 709.44H474.10" fill="none" stroke="#000" stroke-opacity="0.5" stroke-width="0.8"/>
<path d="M497.90 606.47H501.10M499.50 606.47V646.89M497.90 646.89H501.10" fill="none" stroke="#000" stroke-opacity="0.5" stroke-width="0.8"/>
<path d="M507.90 642.08H511.10M509.50 642.08V675.76M507.90 675.76H511.10" fill="none" stroke="#000" stroke-opacity="0.5" stroke-width="0.8"/>
<path d="M517.90 607.44H521.10M519.50 607.44V659.40M517.90 659.40H521.10" fill="none" stroke="#000" stroke-opacity="0.5" stroke-width="0.8"/>
<path d="M527.90 621.87H531.10M529.50 621.87V661.33M527.90 661.33H531.10" fill="none" stroke="#000" stroke-opacity="0.5" stroke-width="0.8"/>
<path d="M554.90 631.49H558.10M556.50 631.49V646.89M554.90 646.89H558.10" fill="none" stroke="#000" stroke-opacity="0.5" stroke-width="0.8"/>
<path d="M564.90 679.13H568.10M566.50 679.13V693.56M564.90 693.56H568.10" fill="none" stroke="#000" stroke-opacity="0.5" stroke-width="0.8"/>
<path d="M574.90 616.10H578.10M576.50 616.10V629.57M574.90 629.57H578.10" fill="none" stroke="#000" stroke-opacity="0.5" stroke-width="0.8"/>
<path d="M584.90 653.15H588.10M586.50 653.15V677.20M584.90 677.20H588.10" fill="none" stroke="#000" stroke-opacity="0.5" stroke-width="0.8"/>
<text x="102.90" y="729.20" font-size="8.4" textLength="24.50" lengthAdjust="spacingAndGlyphs">gRNA1</text>
<text x="162.90" y="729.20" font-size="8.4" textLength="25.30" lengthAdjust="spacingAndGlyphs">gRNA2</text>
<text x="216.50" y="729.20" font-size="8.4" textLength="25.50" lengthAdjust="spacingAndGlyphs">gRNA3</text>
<text x="276.10" y="726.50" font-size="8.4" textLength="25.10" lengthAdjust="spacingAndGlyphs">gRNA1</text>
<text x="336.30" y="726.50" font-size="8.4" textLength="25.20" lengthAdjust="spacingAndGlyphs">gRNA2</text>
<text x="390.00" y="726.50" font-size="8.4" textLength="25.40" lengthAdjust="spacingAndGlyphs">gRNA3</text>
<text x="445.00" y="726.80" font-size="8.4" textLength="24.50" lengthAdjust="spacingAndGlyphs">gRNA1</text>
<text x="505.00" y="726.80" font-size="8.4" textLength="25.00" lengthAdjust="spacingAndGlyphs">gRNA2</text>
<text x="558.80" y="726.80" font-size="8.4" textLength="25.40" lengthAdjust="spacingAndGlyphs">gRNA3</text>
<path d="M116.30 736.40V739.40H231.60V736.40" fill="none" stroke="#858585" stroke-width="0.9"/>
<path d="M289.60 733.60V736.60H404.90V733.60" fill="none" stroke="#858585" stroke-width="0.9"/>
<path d="M458.60 734.40V737.40H573.70V734.40" fill="none" stroke="#858585" stroke-width="0.9"/>
<text x="155.80" y="750.60" font-size="8.8" textLength="32.20" lengthAdjust="spacingAndGlyphs" font-style="italic">ZmCCT9</text>
<text x="330.10" y="748.20" font-size="8.8" textLength="36.90" lengthAdjust="spacingAndGlyphs" font-style="italic">ZmCCT10</text>
<text x="501.60" y="748.60" font-size="8.8" textLength="36.40" lengthAdjust="spacingAndGlyphs" font-style="italic">ZmRap2.7</text>
<rect x="564.3" y="528.70" width="19.2" height="9.80" fill="#d81f26" stroke="rgba(0,0,0,0.5)" stroke-width="0.6"/>
<rect x="564.3" y="540.60" width="19.2" height="8.60" fill="#f5a596" stroke="rgba(0,0,0,0.55)" stroke-width="0.6"/>
<rect x="564.3" y="551.20" width="19.2" height="8.20" fill="#84c8dc" stroke="rgba(0,0,0,0.55)" stroke-width="0.6"/>
<rect x="564.3" y="561.40" width="19.2" height="8.20" fill="#174a8f" stroke="rgba(0,0,0,0.5)" stroke-width="0.6"/>
<text x="587.00" y="537.40" font-size="8.8" textLength="14.90" lengthAdjust="spacingAndGlyphs">Tzi8</text>
<text x="587.00" y="547.70" font-size="8.8" textLength="30.90" lengthAdjust="spacingAndGlyphs">CML277</text>
<text x="587.00" y="557.60" font-size="8.8" textLength="14.60" lengthAdjust="spacingAndGlyphs">B73</text>
<text x="587.00" y="567.80" font-size="8.8" textLength="18.20" lengthAdjust="spacingAndGlyphs">B104</text>
<path d="M556.20 626.30V620.50H566.90V626.30" fill="none" stroke="#858585" stroke-width="0.9"/>
<ellipse cx="561.60" cy="618.60" rx="1.15" ry="0.95" fill="#2a2a2a"/>
<path d="M565.00 611.50V605.50H575.80V611.50" fill="none" stroke="#858585" stroke-width="0.9"/>
<path d="M575.80 611.50V605.50H587.70V611.50" fill="none" stroke="#858585" stroke-width="0.9"/>
<ellipse cx="569.15" cy="603.70" rx="1.15" ry="0.95" fill="#2a2a2a"/>
<ellipse cx="572.25" cy="603.70" rx="1.15" ry="0.95" fill="#2a2a2a"/>
<ellipse cx="582.00" cy="603.70" rx="1.15" ry="0.95" fill="#2a2a2a"/>
</svg>
</body></html>
